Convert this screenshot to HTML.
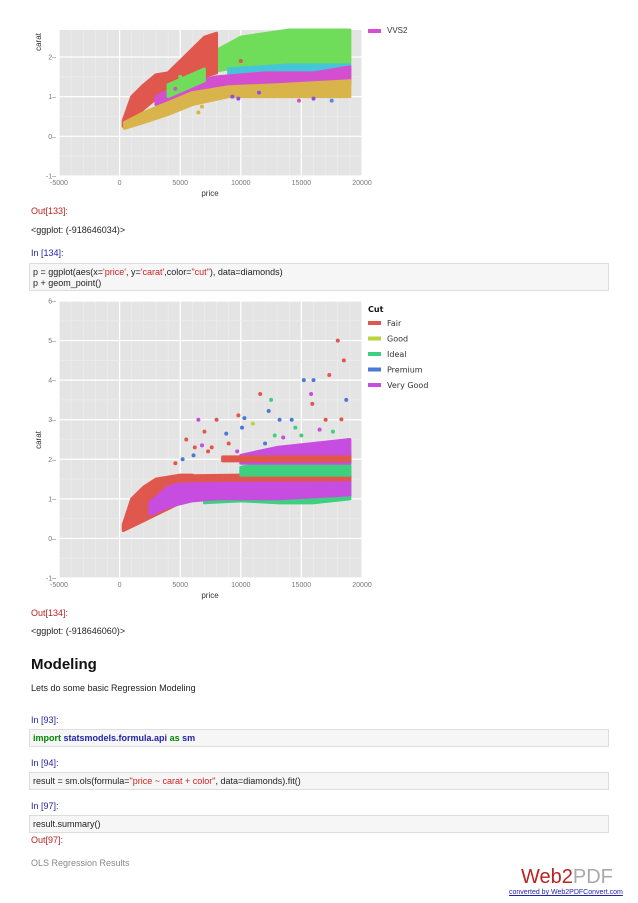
<!DOCTYPE html>
<html><head><meta charset="utf-8">
<style>
body{margin:0;width:638px;height:903px;background:#fff;position:relative;overflow:hidden;font-family:"Liberation Sans",sans-serif;}
.t{position:absolute;font-size:9px;color:#222;white-space:nowrap;}
.out{color:#b22;}
.in{color:#22a;}
.box{position:absolute;left:29px;width:580px;background:#f6f6f6;border:1px solid #ddd;box-sizing:border-box;font-size:9px;color:#222;padding:0 0 0 3px;}
.s{color:#c22;}
svg{position:absolute;left:0;top:0;}
</style></head><body>
<svg id="chart1" width="638" height="200"></svg>
<svg id="chart2" width="638" height="903" style="top:0"></svg>

<div class="t out" style="left:31px;top:206px">Out[133]:</div>
<div class="t" style="left:31px;top:225px">&lt;ggplot: (-918646034)&gt;</div>
<div class="t in" style="left:31px;top:248px">In [134]:</div>
<div class="box" style="top:263px;height:28px;padding-top:3px;line-height:11px">p = ggplot(aes(x=<span class="s">'price'</span>, y=<span class="s">'carat'</span>,color=<span class="s">"cut"</span>), data=diamonds)<br>p + geom_point()</div>

<div class="t out" style="left:31px;top:608px">Out[134]:</div>
<div class="t" style="left:31px;top:626px">&lt;ggplot: (-918646060)&gt;</div>
<div class="t" style="left:31px;top:656px;font-size:15px;font-weight:bold;color:#111">Modeling</div>
<div class="t" style="left:31px;top:683px">Lets do some basic Regression Modeling</div>
<div class="t in" style="left:31px;top:715px">In [93]:</div>
<div class="box" style="top:729px;height:18px;line-height:16px;font-weight:bold"><span style="color:#080">import</span> <span style="color:#22a">statsmodels.formula.api</span> <span style="color:#080">as</span> <span style="color:#22a">sm</span></div>
<div class="t in" style="left:31px;top:758px">In [94]:</div>
<div class="box" style="top:772px;height:18px;line-height:16px">result = sm.ols(formula=<span class="s">"price ~ carat + color"</span>, data=diamonds).fit()</div>
<div class="t in" style="left:31px;top:801px">In [97]:</div>
<div class="box" style="top:815px;height:18px;line-height:16px">result.summary()</div>
<div class="t out" style="left:31px;top:835px">Out[97]:</div>
<div class="t" style="left:31px;top:858px;color:#888">OLS Regression Results</div>
<div class="t" style="left:521px;top:866px;font-size:20px;color:#b22"><span>Web2</span><span style="color:#aaa">PDF</span></div>
<div class="t" style="left:509px;top:889px;font-size:7px;color:#22a;text-decoration:underline">converted by Web2PDFConvert.com</div>

<script>
// ---------- shared data ----------
const xTicks=[-5000,0,5000,10000,15000,20000];
const yTicks1=[-1,0,1,2];
const yTicks2=[-1,0,1,2,3,4,5,6];
const cutNames=["Fair","Good","Ideal","Premium","Very Good"];
const cutColors=["#e0574d","#b9d53e","#3dd17f","#4b7ad6","#c74de0"];
// chart 2 envelopes: [series, prices, lows, highs]
const c2Areas=[
 ["Ideal",[7000,10000,13000,16000,19000],[0.9,0.95,0.9,0.9,1.0],[1.4,1.6,1.7,1.75,1.8]],
 ["Fair",[300,1000,2000,3000,4000,5000,6000],[0.2,0.3,0.45,0.6,0.75,0.9,1.1],[0.35,1.0,1.3,1.5,1.55,1.6,1.6]],
 ["Very Good",[2500,4000,6000,8000,10000,13000,16000,19000],[0.6,0.8,0.95,1.0,1.0,1.0,1.05,1.1],[0.9,1.3,1.45,1.5,1.55,1.6,1.6,1.6]],
 ["Fair",[5000,10000,19000],[1.45,1.47,1.48],[1.58,1.6,1.6]],
 ["Ideal",[10000,14000,19000],[1.6,1.6,1.6],[1.8,2.0,2.2]],
 ["Very Good",[10000,13000,16000,19000],[1.9,1.9,1.9,1.9],[2.1,2.3,2.4,2.5]],
 ["Fair",[8500,19000],[1.96,1.96],[2.06,2.06]]
];
const c2PtPrice=[18000,18500,17300,15900,15200,16000,15800,18700,11600,12500,12300,9800,10300,6500,8000,17000,18300,13200,14200,5500,6200,7000,12800,10100,8800,9700,14500,16500,11000,9000,7600,6100,5200,4600,17600,13500,12000,7300,6800,15000];
const c2PtCarat=[5.0,4.5,4.13,3.4,4.0,4.0,3.65,3.5,3.65,3.5,3.22,3.11,3.04,3.0,3.0,3.0,3.01,3.0,3.0,2.5,2.3,2.7,2.6,2.8,2.65,2.2,2.8,2.75,2.9,2.4,2.3,2.1,2.0,1.9,2.7,2.55,2.4,2.2,2.35,2.6];
const c2PtCut=[0,0,0,0,3,3,4,3,0,2,3,0,3,4,0,0,0,3,3,0,0,0,2,3,3,4,2,4,1,0,0,3,3,0,2,4,3,0,4,2];
// chart 1 (clarity) envelopes
const c1Colors={red:"#e0574d",green:"#6fdc5a",gold:"#d9b44a",magenta:"#d34fd0",blue:"#5a8be0",cyan:"#44c6d8",purple:"#8a52e0"};
const c1Areas=[
 ["green",[7000,10000,14000,19000],[1.6,1.75,1.8,1.85],[2.0,2.5,2.68,2.68]],
 ["red",[300,1000,2000,3000,4000,5000,7000,8000],[0.25,0.4,0.7,0.95,1.1,1.3,1.5,1.6],[0.4,1.0,1.3,1.55,1.6,1.9,2.5,2.6]],
 ["cyan",[9000,14000,19000],[1.4,1.5,1.5],[1.7,1.8,1.8]],
 ["magenta",[3000,5000,8000,12000,16000,19000],[0.8,0.9,1.05,1.1,1.2,1.3],[1.0,1.3,1.5,1.6,1.6,1.75]],
 ["gold",[400,2000,4000,6000,9000,13000,16000,19000],[0.2,0.35,0.55,0.8,1.0,1.0,1.0,1.0],[0.35,0.6,0.85,1.1,1.25,1.3,1.35,1.4]],
 ["green",[4000,7000],[1.0,1.4],[1.3,1.7]]
];
const c1PtPrice=[6500,9800,6800,11500,16000,17500,14800,18000,9300,10000,5000,4600];
const c1PtCarat=[0.6,0.95,0.75,1.1,0.95,0.9,0.9,1.2,1.0,1.9,1.5,1.2];
const c1PtCol=["gold","purple","gold","purple","purple","blue","magenta","gold","purple","red","green","magenta"];

const NS="http://www.w3.org/2000/svg";
function mk(p,tag,a){const e=document.createElementNS(NS,tag);for(const k in a)e.setAttribute(k,a[k]);p.appendChild(e);return e;}

function axes(svg,L,R,T,B,ymin,ymax,yTicks){
 const sx=v=>L+(v+5000)/25000*(R-L);
 const sy=v=>B-(v-ymin)/(ymax-ymin)*(B-T);
 const bg=mk(svg,"rect",{x:L,y:T,width:R-L,height:B-T,fill:"#e4e4e4"});
 
 
 for(let i=0;i<xTicks.length;i++){
  const x=sx(xTicks[i]);
  if(i<xTicks.length-1){for(let m=1;m<5;m++){const xm=sx(xTicks[i]+m*1000);mk(svg,"line",{x1:xm,x2:xm,y1:T,y2:B,stroke:"#eeeeee","stroke-width":0.6});}}
  const g=mk(svg,"line",{x1:x,x2:x,y1:T,y2:B,stroke:"#fff","stroke-width":1.2});
  
  
  const t=mk(svg,"text",{x:x,y:B+9,"font-size":7,fill:"#777","text-anchor":"middle","font-family":"Liberation Sans"});
  t.textContent=xTicks[i];
  
  
 }
 for(let i=0;i<yTicks.length;i++){
  const y=sy(yTicks[i]);
  if(y<T-1)continue;
  if(i<yTicks.length-1){const ym=sy(yTicks[i]+0.5);if(ym>=T)mk(svg,"line",{x1:L,x2:R,y1:ym,y2:ym,stroke:"#eeeeee","stroke-width":0.6});}
  const g=mk(svg,"line",{x1:L,x2:R,y1:y,y2:y,stroke:"#fff","stroke-width":1.2});
  
  
  const t=mk(svg,"text",{x:L-3,y:y+2.5,"font-size":7,fill:"#777","text-anchor":"end","font-family":"Liberation Sans"});
  t.textContent=yTicks[i]+"–";
  
  
 }
 return {sx,sy};
}
function area(svg,sx,sy,xs,lo,hi,col,T){
 let pts=[];
 for(let i=0;i<xs.length;i++)pts.push(sx(xs[i])+","+Math.max(T,sy(hi[i])));
 for(let i=xs.length-1;i>=0;i--)pts.push(sx(xs[i])+","+Math.max(T,sy(lo[i])));
 const p=mk(svg,"polygon",{points:pts.join(" "),fill:col,stroke:col,"stroke-width":3,"stroke-linejoin":"round"});
 return p;
}

// ---------- chart 1 ----------
(function(){
 const svg=document.getElementById("chart1");
 const L=59,R=362,T=30,B=176;
 const {sx,sy}=axes(svg,L,R,T,B,-1,2.68,yTicks1);
 c1Areas.forEach(a=>{const p=area(svg,sx,sy,a[1],a[2],a[3],c1Colors[a[0]],T);
  
  });
 for(let i=0;i<c1PtPrice.length;i++){
  const c=mk(svg,"circle",{cx:sx(c1PtPrice[i]),cy:sy(c1PtCarat[i]),r:2,fill:c1Colors[c1PtCol[i]]});
  
  
 }
 const yl=mk(svg,"text",{x:0,y:0,"font-size":8,fill:"#333",transform:"translate(41,42) rotate(-90)","text-anchor":"middle","font-family":"Liberation Sans"});
 yl.textContent="carat";
 
 
 const xl=mk(svg,"text",{x:210,y:196,"font-size":8,fill:"#333","text-anchor":"middle","font-family":"Liberation Sans"});
 xl.textContent="price";
 
 
 const sw=mk(svg,"rect",{x:368,y:29,width:13,height:4,fill:"#d34fd0"});
 
 
 const lt=mk(svg,"text",{x:387,y:33,"font-size":8,fill:"#333","font-family":"Liberation Sans"});
 lt.textContent="VVS2";
 
 
})();

// ---------- chart 2 ----------
(function(){
 const svg=document.getElementById("chart2");
 const L=59,R=362,T=301,B=578;
 const {sx,sy}=axes(svg,L,R,T,B,-1,6,yTicks2);
 c2Areas.forEach(a=>{const col=cutColors[cutNames.indexOf(a[0])];
  const p=area(svg,sx,sy,a[1],a[2],a[3],col,T);
  
  });
 for(let i=0;i<c2PtPrice.length;i++){
  const c=mk(svg,"circle",{cx:sx(c2PtPrice[i]),cy:sy(c2PtCarat[i]),r:2,fill:cutColors[c2PtCut[i]]});
  
  
 }
 const yl=mk(svg,"text",{x:0,y:0,"font-size":8,fill:"#333",transform:"translate(41,440) rotate(-90)","text-anchor":"middle","font-family":"Liberation Sans"});
 yl.textContent="carat";
 
 
 const xl=mk(svg,"text",{x:210,y:598,"font-size":8,fill:"#333","text-anchor":"middle","font-family":"Liberation Sans"});
 xl.textContent="price";
 
 
 const lh=mk(svg,"text",{x:368,y:312,"font-size":8,"font-weight":"bold",fill:"#111","font-family":"DejaVu Sans"});
 lh.textContent="Cut";
 
 
 for(let i=0;i<cutNames.length;i++){
  const y=323+i*15.5;
  const sw=mk(svg,"rect",{x:368,y:y-2,width:13,height:4,fill:cutColors[i]});
  
  
  const t=mk(svg,"text",{x:387,y:y+3,"font-size":8,fill:"#333","font-family":"DejaVu Sans"});
  t.textContent=cutNames[i];
  
  
 }
})();
</script>
</body></html>
